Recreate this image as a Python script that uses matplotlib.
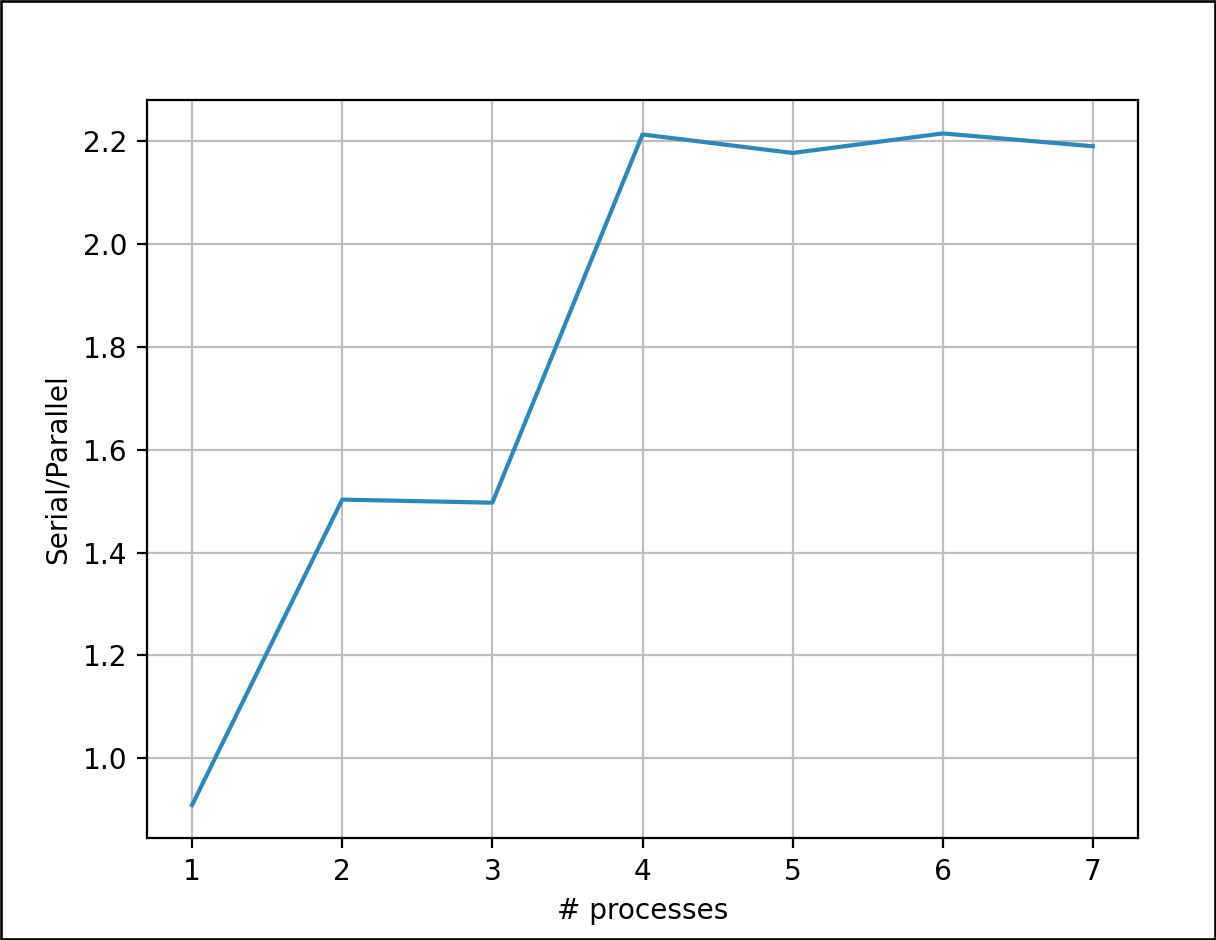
import matplotlib
matplotlib.use("Agg")
import matplotlib.pyplot as plt
from matplotlib.patches import Rectangle

processes = [1, 2, 3, 4, 5, 6, 7]
speedup = [0.909, 1.503, 1.497, 2.213, 2.177, 2.215, 2.190]

s = 1.06
plt.rcParams.update({
    "font.size": 10 * s,
    "xtick.major.size": 3.5 * s,
    "ytick.major.size": 3.5 * s,
    "xtick.major.pad": 3.5 * s,
    "ytick.major.pad": 3.5 * s,
    "xtick.major.width": 0.8 * s,
    "ytick.major.width": 0.8 * s,
    "axes.linewidth": 0.8 * s,
    "axes.labelpad": 4.0 * s,
})

fig = plt.figure(figsize=(6.4, 940 / 190), dpi=190)
ax = fig.add_axes([147 / 1216, 1 - 838 / 940, (1138 - 147) / 1216, (838 - 100) / 940])
ax.plot(processes, speedup, color="#2e88b9", linewidth=1.5 * s)
ax.grid(True, color="#bebebe", linewidth=0.8 * s)
ax.set_xlabel("# processes")
ax.set_ylabel("Serial/Parallel")
ax.set_xticks(processes)
ax.set_ylim(0.845, 2.28)

fig.patches.append(Rectangle((0.001, 0.001), 0.998, 0.998, transform=fig.transFigure,
                             fill=False, edgecolor="black", linewidth=1.0))

fig.savefig("out.png", dpi=190)
